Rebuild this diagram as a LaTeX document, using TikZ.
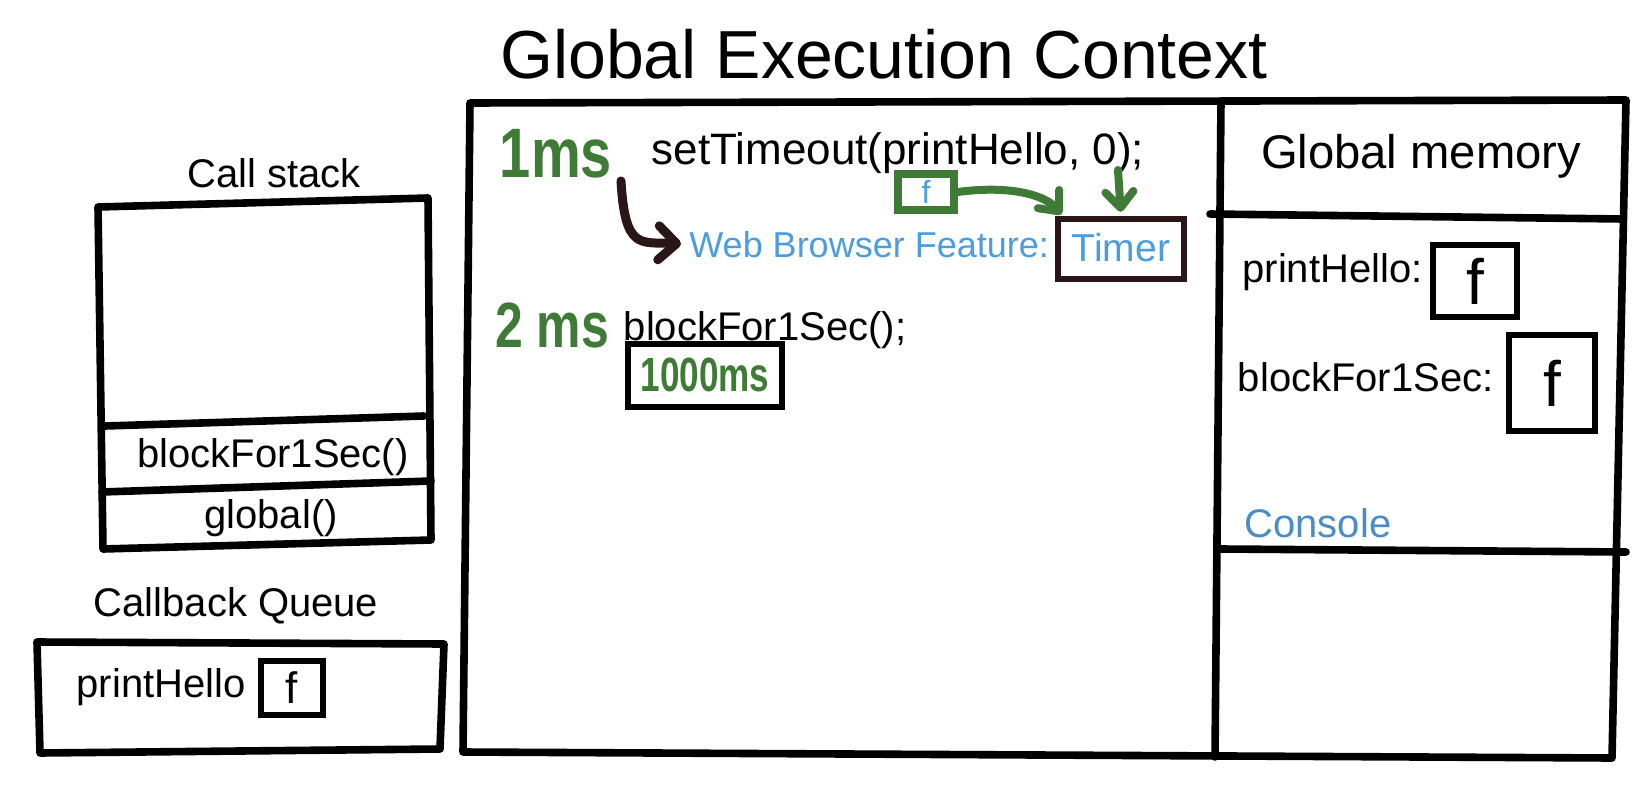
\documentclass[tikz,border=0pt]{standalone}
\usepackage{fontspec}
\usepackage{graphicx}
\setmainfont{Liberation Sans}
\usetikzlibrary{
  arrows.meta,
  positioning
}
\definecolor{inkgreen}{HTML}{3F7B36}
\definecolor{inkblue}{HTML}{4A9DDF}
\definecolor{consoleblue}{HTML}{4A8CC6}
\definecolor{inkdark}{HTML}{2A1616}
\newcommand{\fsize}[1]{\fontsize{#1}{#1}\selectfont}
\tikzset{
  % For the hand-drawn frames.
  handframe/.style={
    line width=3.8pt,
    line join=round,
    line cap=round},
%
  % For the small 'f' cells.
  fcell/.style={
    draw,
    line width=3pt,
    inner sep=0pt,
    font=\fsize{32}},
%
  % For plain labels, placed on their base line.
  txt/.style={
    anchor=base,
    inner sep=0pt,
    font=\fsize{20}},
%
  % For handwritten green notes.
  note/.style={
    anchor=base,
    inner sep=0pt,
    text=inkgreen,
    font=\bfseries\fsize{35}},
%
  % For handwritten arrows.
  green arrow/.style={
    draw=inkgreen,
    line width=4pt,
    line cap=round,
    -{Straight Barb[round, length=8pt, width=14pt, line width=4pt]}},
  dark arrow/.style={
    draw=inkdark,
    line width=4.5pt,
    line cap=round,
    -{Straight Barb[round, length=9pt, width=17pt, line width=4.5pt]}},
}

\begin{document}
\begin{tikzpicture}[x=0.5pt, y=-0.5pt]
  \useasboundingbox (0,0) rectangle (1650,787);

  % Main frame with the memory panel on its right.
  \coordinate (TL) at (470,103);
  \coordinate (TR) at (1626,100);
  \coordinate (BR) at (1612,758);
  \coordinate (BL) at (463,752);
  \draw[handframe] (TL) -- (TR) -- (BR) -- (BL) -- cycle;
  \draw[handframe] (1221,101) -- (1215,757);
  \draw[handframe] (1210,214) -- (1623,219);
  \draw[handframe] (1221,549) -- (1626,552);

  % Call stack and callback queue.
  \draw[handframe] (98,207) -- (428,198) -- (431,540) -- (103,549) -- cycle;
  \draw[handframe] (105,426) -- (424,416);
  \draw[handframe] (102,492) -- (431,481);
  \draw[handframe] (37,642) -- (444,644) -- (440,749) -- (40,753) -- cycle;

  \node[txt, font=\fsize{34}] (title) at (884,78) {Global Execution Context};
  \node[txt] (stack) at (274,187) {Call stack};
  \node[txt] (frameblock) at (273,467) {blockFor1Sec()};
  \node[txt] (frameglobal) at (271,528) {global()};
  \node[txt] (queue) at (236,616) {Callback Queue};
  \node[fcell, font=\fsize{22}, minimum width=31pt, minimum height=27pt] (qf) at (292,688) {f};
  \node[txt, anchor=base east] (qprint) at (246,697) {printHello};

  % Thread of execution.
  \node[note] (one) at (556,177) {\scalebox{0.8}[1]{1ms}};
  \node[txt, font=\fsize{22}] (settimeout) at (898,164) {setTimeout(printHello, 0);};
  \node[fcell, draw=inkgreen, line width=4pt, font=\fsize{16}, text=inkblue,
        minimum width=28pt, minimum height=18pt] (gf) at (926,192) {f};
  \node[txt, anchor=base west, text=inkblue, font=\fsize{18}] (web) at (689,257) {Web Browser Feature:};
  \node[draw=inkdark, line width=3.2pt, inner sep=0pt, minimum width=63pt, minimum height=30pt,
        text=inkblue, font=\fsize{19.5}] (timer) at (1121,249) {\raisebox{2pt}{Timer}};
  \node[note, font=\bfseries\fsize{32}] (two) at (552,347) {\scalebox{0.78}[1]{2 ms}};
  \node[txt] (block) at (765,340) {blockFor1Sec();};
  \node[draw, line width=3pt, inner sep=0pt, minimum width=77pt, minimum height=31.5pt,
        text=inkgreen, font=\bfseries\fsize{24}] (wait) at (705,375) {\scalebox{0.73}[1]{1000ms}};

  % Global memory and console.
  \node[txt, font=\fsize{23.6}] (memory) at (1421,168) {Global memory};
  \node[fcell, minimum width=42pt, minimum height=36pt] (mf1) at (1475,281) {f};
  \node[fcell, minimum width=43pt, minimum height=48pt] (mf2) at (1552,383) {f};
  \node[txt, anchor=base east] (mprint) at (1423,282) {printHello:};
  \node[txt, anchor=base east] (mblock) at (1494,391) {blockFor1Sec:};
  \node[txt, text=consoleblue] (console) at (1318,537) {Console};

  % Arrows.
  \coordinate (drop) at (621,181);
  \coordinate (zero) at (1118,170);
  \draw[dark arrow, shorten >=4pt] (drop) .. controls (625,250) and (640,242) .. (web.west);
  \draw[green arrow, shorten >=1pt] (gf.east)
    .. controls (1010,185) and (1045,195) .. ([shift={(8,0)}]timer.north west);
  \draw[green arrow, shorten >=2pt] (zero) -- (timer.north);
\end{tikzpicture}
\end{document}
